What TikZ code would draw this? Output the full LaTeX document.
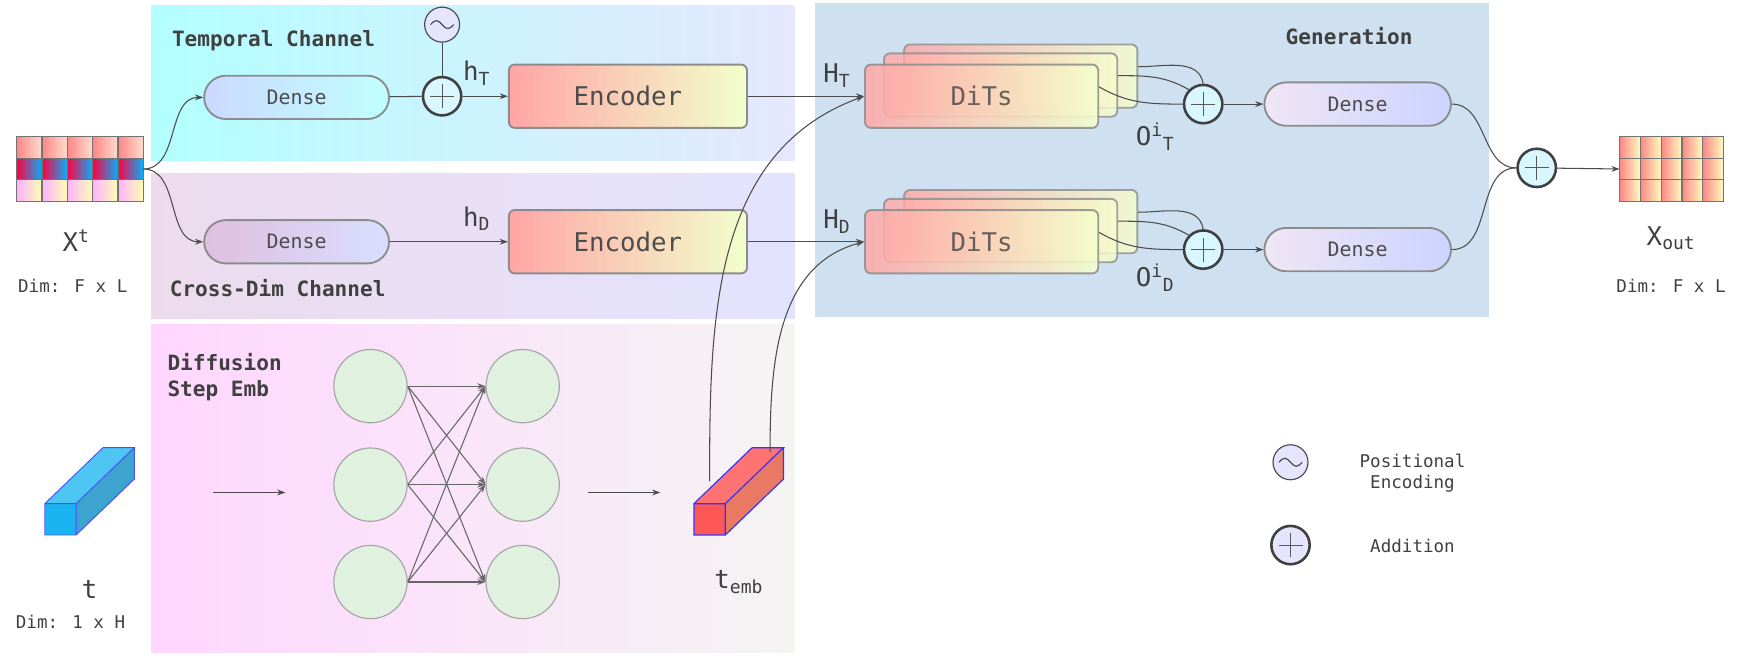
\documentclass[tikz,border=0pt]{standalone}
\usepackage{fontspec}
\setmonofont{DejaVu Sans Mono}
\setmainfont{DejaVu Sans Mono}
\usetikzlibrary{arrows.meta}
\definecolor{genbg}{HTML}{CFE1F1}
\begin{document}
\begin{tikzpicture}[x=0.0336cm,y=-0.0336cm,
  line/.style={draw=black!70,line width=0.9pt},
  arr/.style={line,-{Stealth[length=7pt,width=5pt]}},
  box/.style={draw=black!45,line width=1.6pt,rounded corners=5pt,minimum height=1.9cm,font=\fontsize{22}{24}\selectfont,text=black!70},
  dense/.style={draw=black!45,line width=1.6pt,rounded corners=0.65cm,minimum width=5.55cm,minimum height=1.3cm,font=\fontsize{17}{20}\selectfont,text=black!70},
  plus/.style={circle,draw=black!75,line width=2.2pt,fill=blue!20!cyan!15,minimum size=1.15cm,inner sep=0pt},
  ttl/.style={font=\fontsize{18}{22}\bfseries\selectfont,text=black!75,anchor=west},
  lbl/.style={font=\fontsize{22}{24}\selectfont,text=black!75},
  dim/.style={font=\fontsize{15}{18}\selectfont,text=black!75},
  neu/.style={circle,draw=black!35,line width=1pt,fill=green!55!black!12,minimum size=2.2cm}]
\newcommand\pluscross[1]{\draw[black!65,line width=0.9pt] ([yshift=-0.36cm]#1.center)--([yshift=0.36cm]#1.center) ([xshift=-0.36cm]#1.center)--([xshift=0.36cm]#1.center);}
\useasboundingbox (0,0) rectangle (1568,588);
% panels
\shade[left color=cyan!30,right color=cyan!8!blue!10] (135,5) rectangle (710,143);
\shade[left color=violet!14,right color=blue!11] (135,155) rectangle (710,285);
\shade[left color=magenta!16,right color=yellow!6!gray!9] (135,290) rectangle (710,583);
\fill[genbg] (728,3) rectangle (1330,283);
\node[ttl] at (150,36) {Temporal Channel};
\node[ttl] at (148,257) {Cross-Dim Channel};
\node[ttl,align=left,anchor=north west] at (146,312) {Diffusion\\Step Emb};
\node[ttl] at (1145,32) {Generation};
% input matrix
\foreach \c in {0,...,4}{
  \pgfmathsetmacro\xa{15+\c*22.6}
  \shade[left color=red!30!pink,right color=pink!70!orange!40] (\xa,122) rectangle ++(22.6,19.3);
  \shade[left color=red!75!magenta,right color=cyan!70!blue] (\xa,141.3) rectangle ++(22.6,19.3);
  \shade[left color=magenta!30,right color=yellow!30] (\xa,160.6) rectangle ++(22.6,19.4);
  \draw[black!55,line width=1pt] (\xa,122) rectangle ++(22.6,58);
}
\draw[black!55,line width=1pt] (15,141.3)--(128,141.3) (15,160.6)--(128,160.6) (15,122) rectangle (128,180);
\coordinate (xin) at (128,151);
\node[lbl] at (68,215) {X\textsuperscript{t}};
\node[dim] at (65,255) {Dim: F x L};
% output matrix
\foreach \c in {0,...,4}{
  \pgfmathsetmacro\xa{1447+\c*18.6}
  \foreach \r in {0,1,2}{
  \shade[left color=red!30!pink,right color=yellow!25] (\xa,122+\r*19.33) rectangle ++(18.6,19.33);}
  \draw[black!55,line width=1pt] (\xa,122) rectangle ++(18.6,58);
}
\draw[black!55,line width=1pt] (1447,141.3)--(1540,141.3) (1447,160.6)--(1540,160.6) (1447,122) rectangle (1540,180);
\coordinate (xout) at (1447,151);
\node[lbl] at (1493,213) {X\textsubscript{out}};
\node[dim] at (1493,255) {Dim: F x L};
% temporal
\node[dense,left color=cyan!25!blue!20,right color=cyan!25] (dT) at (265,87) {Dense};
\node[plus] (pT) at (395,86) {};
\pluscross{pT}
\node[circle,draw=black!70,line width=1pt,fill=blue!10,minimum size=1.05cm] (sin) at (395,22) {};
\draw[black!70,line width=1pt] ([xshift=-0.35cm]sin.center) sin ([xshift=-0.17cm,yshift=0.12cm]sin.center) cos (sin.center) sin ([xshift=0.17cm,yshift=-0.12cm]sin.center) cos ([xshift=0.35cm]sin.center);
\draw[line] (sin)--(pT);
\node[box,minimum width=7.15cm,left color=red!35,right color=green!25!yellow!20] (eT) at (561,86) {Encoder};
\node[lbl,anchor=south west] at (410,80) {h\textsubscript{T}};
\draw[arr] (xin) to[out=0,in=180] (dT.west);
\draw[line] (dT)--(pT);
\draw[arr] (pT)--(eT);
% cross
\node[dense,left color=violet!25,right color=cyan!15!blue!15] (dD) at (265,216) {Dense};
\node[box,minimum width=7.15cm,left color=red!35,right color=green!25!yellow!20] (eD) at (561,216) {Encoder};
\node[lbl,anchor=south west] at (410,210) {h\textsubscript{D}};
\draw[arr] (xin) to[out=0,in=180] (dD.west);
\draw[arr] (dD)--(eD);
% DiTs
\foreach \n/\y in {T/86,D/216}{
  \node[box,minimum width=7.0cm,left color=red!35,right color=green!20!yellow!20,opacity=0.8] (b3\n) at (912,\y-18) {};
  \node[box,minimum width=7.0cm,left color=red!35,right color=green!20!yellow!20,opacity=0.8] (b2\n) at (894,\y-10) {};
  \node[box,minimum width=7.0cm,left color=red!35,right color=green!20!yellow!20,opacity=0.85] (b1\n) at (877,\y) {DiTs};
  \node[plus] (p\n) at (1075,\y+7) {};
  \pluscross{p\n}
  \draw[line] ([yshift=8pt]b1\n.east) to[out=-30,in=180] (p\n.west);
  \draw[line] ([yshift=8pt]b2\n.east) to[out=0,in=150] (p\n.north west);
  \draw[line] ([yshift=8pt]b3\n.east) to[out=0,in=100] (p\n.north);
  \node[dense,minimum width=5.6cm,left color=blue!22!violet!10,right color=cyan!15!blue!20] (g\n) at (1213,\y+7) {Dense};
  \draw[arr] (p\n)--(g\n);
  \coordinate (in\n) at (b1\n.west);
}
\node[lbl,anchor=south west] at (732,82) {H\textsubscript{T}};
\node[lbl,anchor=south west] at (732,212) {H\textsubscript{D}};
\node[lbl] at (1032,122) {O\textsuperscript{i}\textsubscript{T}};
\node[lbl] at (1032,248) {O\textsuperscript{i}\textsubscript{D}};
\draw[arr] (eT)--(inT);
\draw[arr] (eD)--(inD);
% final plus
\node[plus] (pF) at (1373,150) {};
\pluscross{pF}
\draw[line] (gT.east) to[out=0,in=180] (pF.west);
\draw[line] (gD.east) to[out=0,in=180] (pF.west);
\draw[arr] (pF)--(xout);
% diffusion
\fill[cyan!70] (40,450)--(92,400)--(120,400)--(68,450)--cycle;
\fill[cyan!60!teal!90] (68,450)--(120,400)--(120,428)--(68,478)--cycle;
\fill[cyan!90] (40,450) rectangle (68,478);
\draw[blue!70,line width=0.8pt] (40,450) rectangle (68,478) (40,450)--(92,400)--(120,400)--(68,450) (120,400)--(120,428)--(68,478);
\node[lbl] at (80,527) {t};
\node[dim] at (63,556) {Dim: 1 x H};
\coordinate (a1) at (190,440); \coordinate (a2) at (255,440);
\draw[arr] (a1)--(a2);
\foreach \i/\y in {1/345,2/433,3/520}{
  \node[neu] (L\i) at (331,\y) {};
  \node[neu] (R\i) at (467,\y) {};
}
\foreach \i in {1,2,3}{\foreach \j in {1,2,3}{\draw[arr,black!60] (L\i.east)--(R\j.west);}}
\coordinate (b1) at (525,440); \coordinate (b2) at (590,440);
\draw[arr] (b1)--(b2);
\fill[red!40!pink] (620,450)--(672,400)--(700,400)--(648,450)--cycle;
\fill[red!50!brown!70] (648,450)--(700,400)--(700,428)--(648,478)--cycle;
\fill[red!55!pink] (620,450) rectangle (648,478);
\draw[blue!80,line width=1pt] (620,450) rectangle (648,478) (620,450)--(672,400)--(700,400)--(648,450) (700,400)--(700,428)--(648,478);
\coordinate (te1) at (634,430); \coordinate (te2) at (688,404);
\node[lbl] at (660,520) {t\textsubscript{emb}};
\draw[arr] (te1) to[out=90,in=200] (inT);
\draw[arr] (te2) to[out=90,in=195] (inD);
% legend
\node[circle,draw=black!70,line width=1pt,fill=blue!10,minimum size=1.05cm] (ls) at (1153,413) {};
\draw[black!70,line width=1pt] ([xshift=-0.35cm]ls.center) sin ([xshift=-0.17cm,yshift=0.12cm]ls.center) cos (ls.center) sin ([xshift=0.17cm,yshift=-0.12cm]ls.center) cos ([xshift=0.35cm]ls.center);
\node[dim,align=center] at (1262,423) {Positional\\Encoding};
\node[plus,fill=blue!10] (lp) at (1153,487) {};
\pluscross{lp}
\node[dim] at (1262,488) {Addition};
\end{tikzpicture}
\end{document}
